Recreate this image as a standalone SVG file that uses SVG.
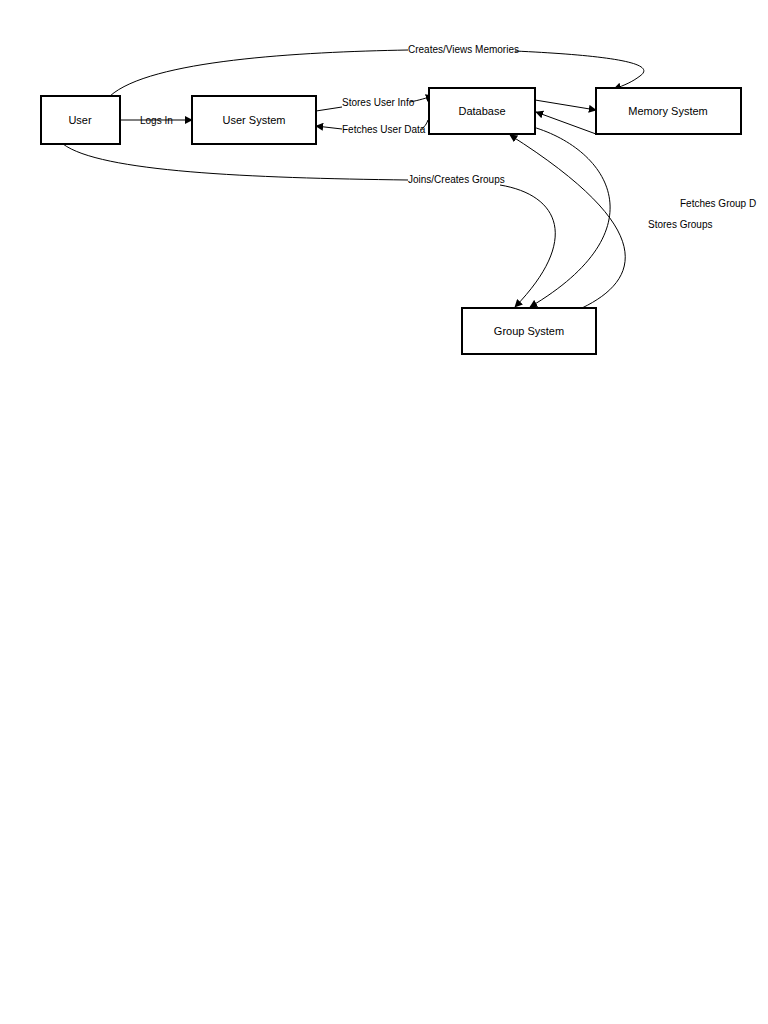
<svg xmlns="http://www.w3.org/2000/svg" width="768" height="1024" viewBox="0 0 768 1024">
<style>
rect{fill:#fff;stroke:#000;stroke-width:2}
text{font-family:"Liberation Sans",Arial,sans-serif;font-size:10px;fill:#000}
.n text{font-size:11px;text-anchor:middle;dominant-baseline:central}
#edges path{fill:none;stroke:#000;stroke-width:1;marker-end:url(#a)}
#edges path.p{marker-end:none}
.l{fill:#fff;stroke:none}
</style>
<defs><marker id="a" viewBox="0 0 10 10" refX="9" refY="5" markerWidth="8" markerHeight="8" orient="auto" markerUnits="userSpaceOnUse"><path d="M0,0L10,5L0,10z" fill="#000"/></marker></defs>
<rect x="0" y="0" width="768" height="1024" style="stroke:none"/>
<g id="edges">
<path class="p" d="M110,96 C150,60 300,52 408,50"/>
<path d="M515,51 C600,55 660,62 640,76 C632,82 625,85 614,89"/>
<text x="408" y="53">Creates/Views Memories</text>
<path d="M120,120 L192,120"/>
<text x="140" y="124">Logs In</text>
<path class="p" d="M316,111 L342,107"/>
<text x="342" y="106">Stores User Info</text>
<path d="M410,102 C420,100 426,98 433,96"/>
<path class="p" d="M428,120 C426,126 422,129 420,130"/>
<text x="342" y="133">Fetches User Data</text>
<path d="M342,129 L316,126"/>
<path d="M535,100 L596,110"/>
<path d="M596,134 L536,112"/>
<path class="p" d="M63,144 C100,172 250,178 408,180"/>
<text x="408" y="183">Joins/Creates Groups</text>
<path d="M500,185 C560,195 580,240 515,307"/>
<path d="M533,127 C610,150 660,230 530,307"/>
<path d="M582,308 C640,280 660,230 510,135"/>
<text x="680" y="207">Fetches Group D</text>
<text x="648" y="228">Stores Groups</text>
</g>
<g id="user" class="n"><rect x="41" y="96" width="79" height="48"/><text x="80" y="120">User</text></g>
<g id="usersystem" class="n"><rect x="192" y="96" width="124" height="48"/><text x="254" y="120">User System</text></g>
<g id="database" class="n"><rect x="429" y="88" width="106" height="46"/><text x="482" y="111">Database</text></g>
<g id="memory" class="n"><rect x="596" y="88" width="145" height="46"/><text x="668" y="111">Memory System</text></g>
<g id="group" class="n"><rect x="462" y="308" width="134" height="46"/><text x="529" y="331">Group System</text></g>
</svg>
